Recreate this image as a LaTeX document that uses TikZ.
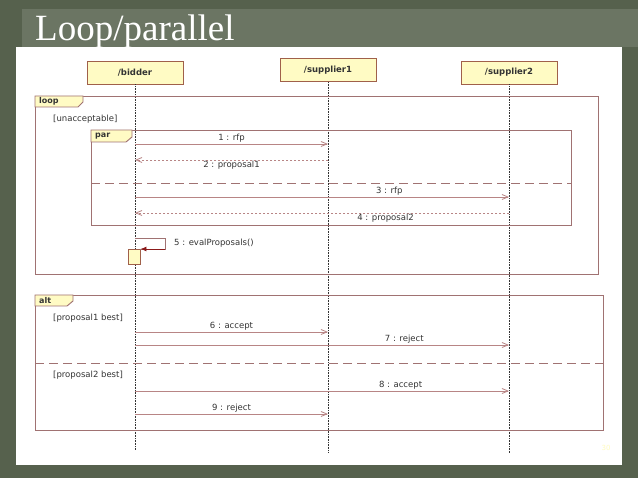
\documentclass[tikz,border=0pt]{standalone}
\usepackage{fontspec}
\setmainfont{DejaVu Sans}
\newfontfamily\titlefont{Liberation Serif}
\usetikzlibrary{arrows.meta}
\definecolor{bgc}{HTML}{56614D}
\definecolor{bandc}{HTML}{6B7563}
\definecolor{framec}{HTML}{A07272}
\definecolor{msgc}{HTML}{B88585}
\definecolor{boxfill}{HTML}{FFFBC4}
\definecolor{boxline}{HTML}{A0604A}
\definecolor{txtc}{HTML}{333333}
\definecolor{selfc}{HTML}{8B1A1A}
\tikzset{
  lifebox/.style={draw=boxline, fill=boxfill, line width=0.9pt, minimum width=96pt, minimum height=23pt, inner sep=0pt, font=\bfseries\fontsize{8.5}{9}\selectfont, text=txtc},
  lifeline/.style={draw=black!80, line width=0.9pt, dash pattern=on 0.8pt off 0.8pt},
  frameline/.style={draw=framec, line width=0.9pt},
  sepline/.style={draw=framec, line width=0.9pt, dash pattern=on 9pt off 5pt},
  tagbox/.style={draw=framec, fill=boxfill, line width=0.9pt},
  tagtext/.style={font=\bfseries\fontsize{8}{8}\selectfont, text=txtc, anchor=west, inner sep=0pt},
  msg/.style={draw=msgc, line width=0.8pt, -{Straight Barb[length=6pt,width=5pt]}},
  ret/.style={draw=msgc, line width=0.8pt, dash pattern=on 2pt off 2pt, -{Straight Barb[length=6pt,width=5pt]}},
  mlabel/.style={font=\fontsize{8.5}{9}\selectfont, text=txtc, inner sep=1pt},
  guard/.style={font=\fontsize{8.5}{9}\selectfont, text=txtc, anchor=west, inner sep=0pt}
}
\begin{document}
\begin{tikzpicture}[x=1pt,y=-1pt]
\useasboundingbox (0,0) rectangle (638,478);
\fill[bgc] (0,0) rectangle (638,478);
\fill[bandc] (22,9) rectangle (638,47);
\fill[white] (16,47) rectangle (622,465);
\node[anchor=base west, inner sep=0pt, font=\titlefont\fontsize{37}{37}\selectfont, text=white] (title) at (35,41) {Loop/parallel};

% lifelines
\node[lifebox] (bidder) at (135,72.5) {/bidder};
\node[lifebox] (sup1) at (328,70) {/supplier1};
\node[lifebox] (sup2) at (509,72.5) {/supplier2};
\coordinate (bEnd) at (135,450);
\coordinate (s1End) at (328,453);
\coordinate (s2End) at (509,453);
\draw[lifeline] (bidder.south) -- (bEnd);
\draw[lifeline] (sup1.south) -- (s1End);
\draw[lifeline] (sup2.south) -- (s2End);

% loop frame
\draw[frameline] (35,96) rectangle (598,274);
\draw[tagbox] (35,96) -- (83,96) -- (83,102) -- (78,107) -- (35,107) -- cycle;
\node[tagtext] (looplbl) at (39,101.5) {loop};
\node[guard] (g1) at (53,119) {[unacceptable]};

% par frame
\draw[frameline] (91,130) rectangle (571,225);
\draw[tagbox] (91,130) -- (132,130) -- (132,137) -- (126,142) -- (91,142) -- cycle;
\node[tagtext] (parlbl) at (95,136) {par};
\draw[sepline] (91,183) -- (571,183);

% messages in par
\coordinate (b1) at (135,144); \coordinate (s1a) at (328,144);
\draw[msg] (b1) -- node[mlabel, above] {1 : rfp} (s1a);
\coordinate (b2) at (135,160); \coordinate (s1b) at (328,160);
\draw[ret] (s1b) -- node[mlabel, below] {2 : proposal1} (b2);
\coordinate (b3) at (135,197); \coordinate (s2a) at (509,197);
\draw[msg] (b3) -- node[mlabel, above, pos=0.68] {3 : rfp} (s2a);
\coordinate (b4) at (135,213); \coordinate (s2b) at (509,213);
\draw[ret] (s2b) -- node[mlabel, below, pos=0.33] {4 : proposal2} (b4);

% self message
\node[draw=boxline, fill=boxfill, line width=0.9pt, minimum width=12pt, minimum height=15pt, inner sep=0pt] (act) at (134,256.5) {};
\coordinate (b5) at (135,238);
\coordinate (s5a) at (165,238);
\coordinate (s5b) at (165,249);
\draw[draw=framec, line width=0.9pt] (b5) -- (s5a) -- (s5b) -- (act.east |- s5b);
\draw[draw=selfc, line width=0.9pt, -{Latex[length=6pt,width=5pt]}] (s5b) -- (act.east |- s5b);
\node[mlabel, anchor=west] (m5) at (173,243.5) {5 : evalProposals()};

% alt frame
\draw[frameline] (35,295) rectangle (603,430);
\draw[tagbox] (35,295) -- (73,295) -- (73,301) -- (67,306) -- (35,306) -- cycle;
\node[tagtext] (altlbl) at (39,300.5) {alt};
\node[guard] (g2) at (53,318) {[proposal1 best]};
\draw[sepline] (35,363) -- (603,363);
\node[guard] (g3) at (53,375) {[proposal2 best]};

\coordinate (b6) at (135,332); \coordinate (s1c) at (328,332);
\draw[msg] (b6) -- node[mlabel, above] {6 : accept} (s1c);
\coordinate (b7) at (135,345); \coordinate (s2c) at (509,345);
\draw[msg] (b7) -- node[mlabel, above, pos=0.72] {7 : reject} (s2c);
\coordinate (b8) at (135,391); \coordinate (s2d) at (509,391);
\draw[msg] (b8) -- node[mlabel, above, pos=0.71] {8 : accept} (s2d);
\coordinate (b9) at (135,414); \coordinate (s1d) at (328,414);
\draw[msg] (b9) -- node[mlabel, above] {9 : reject} (s1d);

% footer
\node[font=\fontsize{7}{8}\selectfont, text=yellow!25] (pg) at (606,448) {30};
\end{tikzpicture}
\end{document}
